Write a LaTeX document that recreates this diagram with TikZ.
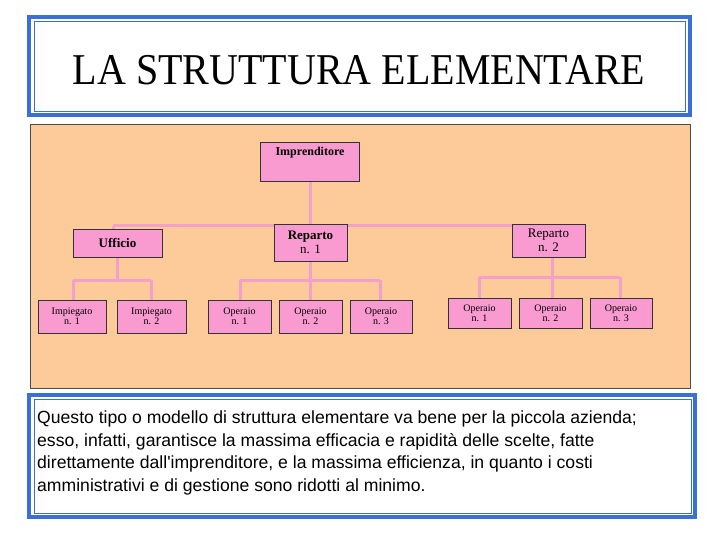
\documentclass[tikz,border=0pt]{standalone}
\usepackage{fontspec}
\setmainfont{Liberation Serif}
\newfontfamily\arialf{Liberation Sans}
\definecolor{bl}{HTML}{3A6FD8}
\definecolor{peach}{HTML}{FDCB9A}
\definecolor{pk}{HTML}{F99AD0}
\definecolor{pkl}{HTML}{F4A0CC}
\tikzset{
 frame/.style={draw=bl,line width=1pt},
 bx/.style={draw=black!80,fill=pk,line width=0.6pt,align=center,font=\fontsize{12}{12}\selectfont,inner sep=0pt},
 sm/.style={bx,font=\fontsize{10}{10}\selectfont},
 cn/.style={draw=pkl,line width=3pt}
}
\begin{document}
\begin{tikzpicture}[x=1pt,y=-1pt]
\useasboundingbox (0,0) rectangle (720,540);
\fill[white] (0,0) rectangle (720,540);
% title frame
\draw[frame,line width=4pt] (29,17) rectangle (690,115);
\draw[bl,line width=0.6pt] (34,21) rectangle (685,111);
\node (title) at (359,70) {\fontsize{40}{40}\selectfont\scalebox{1}[1.1]{LA STRUTTURA ELEMENTARE}};
% chart area
\fill[peach,draw=black!70,line width=1pt] (30,125) rectangle (690,388);
\draw[cn] (310,181) -- (310,226);
\draw[cn] (113,226) -- (552,226);
\draw[cn] (113,226) -- (113,229);
\draw[cn] (310,226) -- (310,224);
\draw[cn] (552,226) -- (552,224);
\draw[cn] (117,257) -- (117,280) (73,280) -- (151,280) (73,280) -- (73,300) (151,280) -- (151,300);
\draw[cn] (310,261) -- (310,280) (240,280) -- (380,280) (240,280) -- (240,300) (310,280)--(310,300) (380,280) -- (380,300);
\draw[cn] (552,257) -- (552,277) (479,277) -- (620,277) (479,277) -- (479,298) (552,277)--(552,298) (620,277) -- (620,298);
\node[bx,minimum width=99,minimum height=39,anchor=north west,text depth=0pt] (imp) at (260,142) {};
\node[font=\fontsize{12}{12}\selectfont\bfseries] (impt) at (310,153) {Imprenditore};
\node[bx,minimum width=89,minimum height=28,font=\fontsize{13}{13}\selectfont\bfseries] (uff) at (117.5,243) {Ufficio};
\node[bx,minimum width=73,minimum height=37,font=\fontsize{13}{14}\selectfont] (r1) at (310.5,242.5) {\textbf{Reparto}\\n. 1};
\node[bx,minimum width=73,minimum height=33,font=\fontsize{13}{14}\selectfont] (r2) at (548.5,240.5) {Reparto\\n. 2};
\foreach \n/\x/\w/\t/\y/\h in {i1/72/68/Impiegato\\n. 1/316.5/33, i2/151.5/69/Impiegato\\n. 2/316.5/33,
 o1/239.5/63/Operaio\\n. 1/316.5/33, o2/310.5/63/Operaio\\n. 2/316.5/33, o3/381/62/Operaio\\n. 3/316.5/33,
 p1/479.5/63/Operaio\\n. 1/313/30, p2/550.5/63/Operaio\\n. 2/313/30, p3/621/62/Operaio\\n. 3/313/30}
  \node[sm,minimum width=\w,minimum height=\h] (\n) at (\x,\y) {\t};
% text frame
\draw[frame,line width=4pt] (29,395) rectangle (695,517);
\draw[bl,line width=0.6pt] (34,399) rectangle (691,513);
\node[anchor=north west,align=left,font=\arialf\fontsize{17.6}{22.5}\selectfont,inner sep=0pt] (txt) at (37,411)
{Questo tipo o modello di struttura elementare va bene per la piccola azienda;\\
esso, infatti, garantisce la massima efficacia e rapidità delle scelte, fatte\\
direttamente dall'imprenditore, e la massima efficienza, in quanto i costi\\
amministrativi e di gestione sono ridotti al minimo.};
\end{tikzpicture}
\end{document}
